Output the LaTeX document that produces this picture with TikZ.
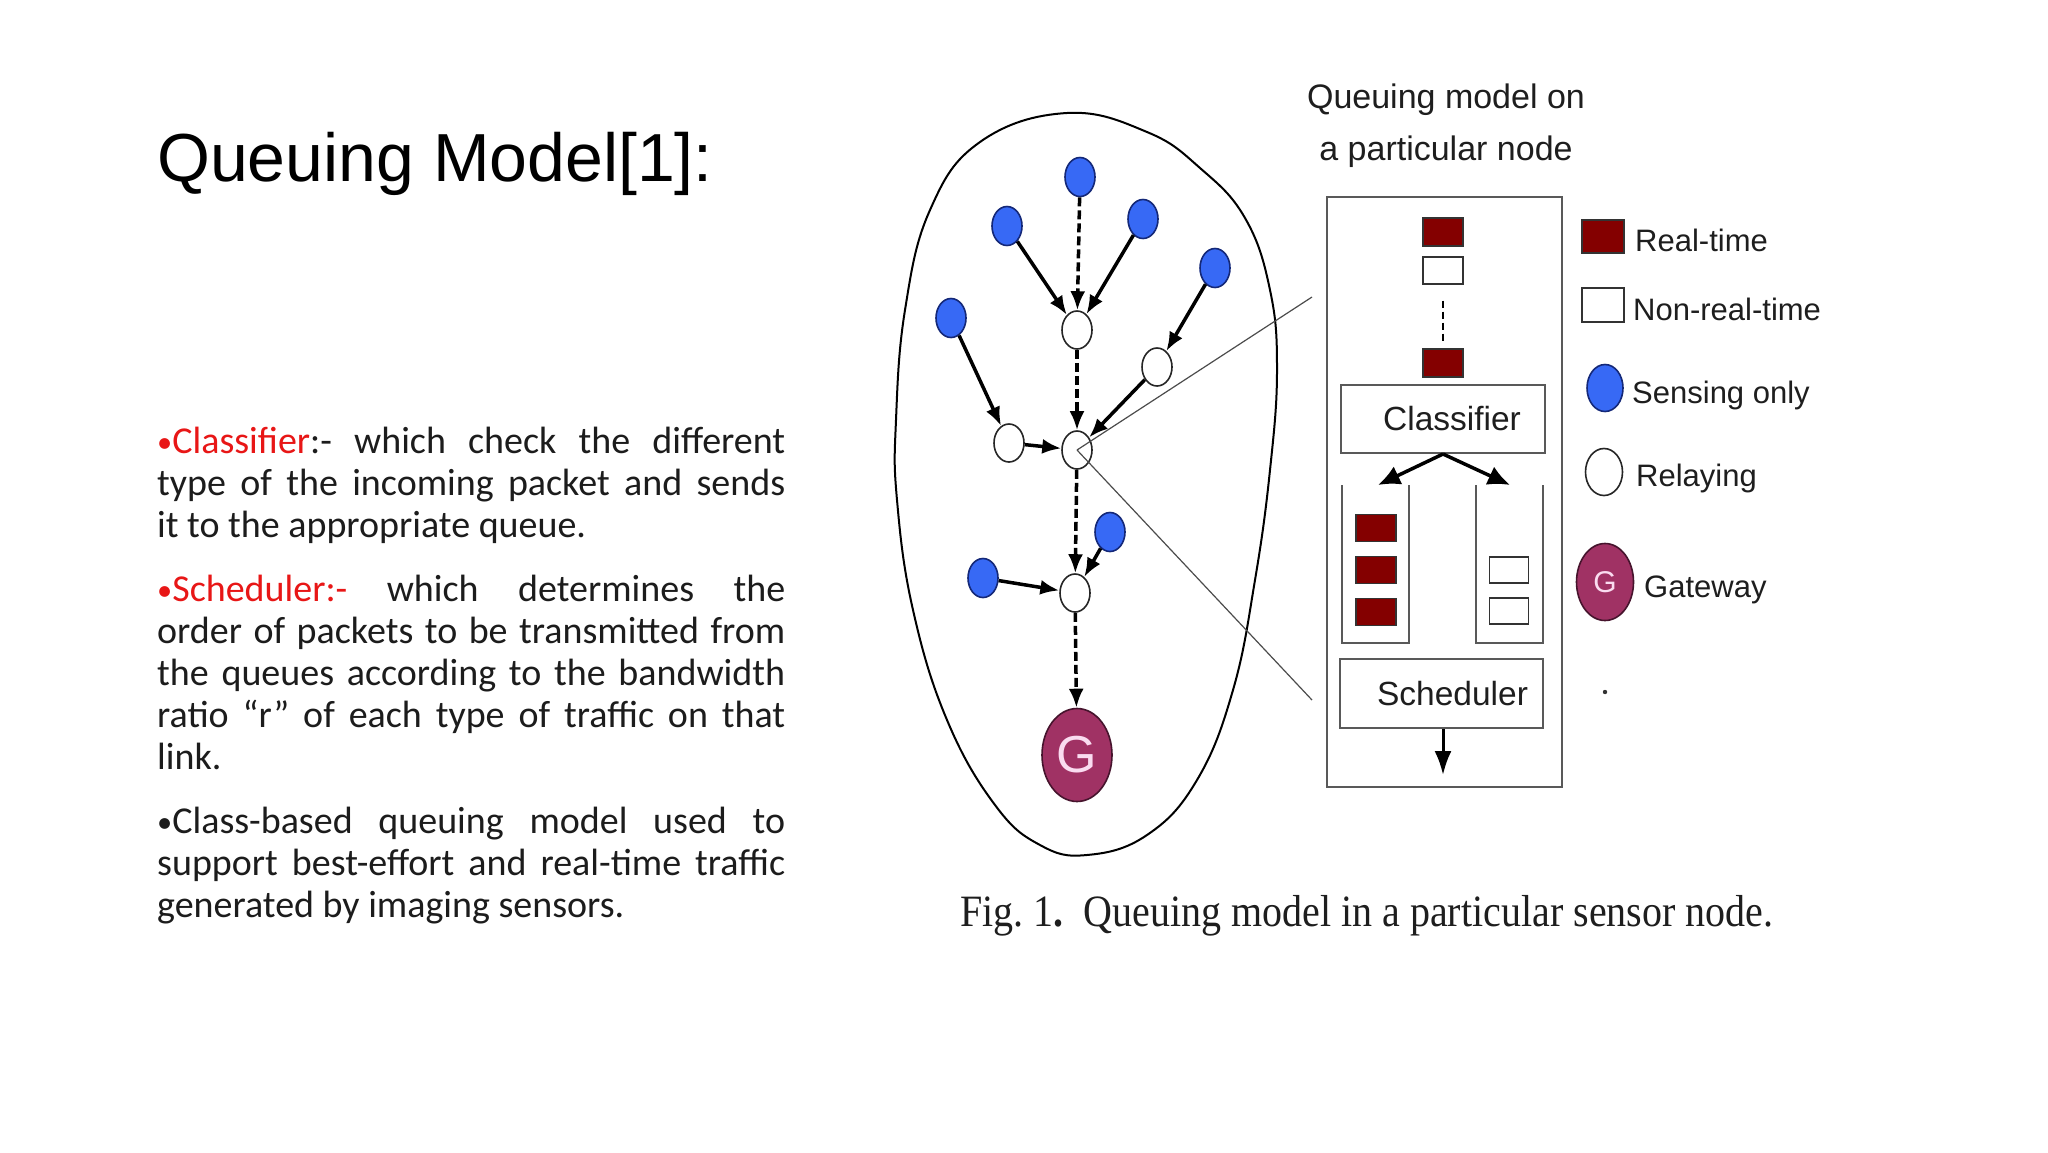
\documentclass[tikz,border=0pt]{standalone}
\usepackage{fontspec}
\setmainfont{Carlito}
\newfontfamily\arialf{Liberation Sans}
\newfontfamily\serf{Liberation Serif}
\usetikzlibrary{shapes.geometric,arrows.meta}
\definecolor{sensblue}{RGB}{55,105,245}
\definecolor{sensedge}{RGB}{20,40,120}
\definecolor{darkred}{RGB}{132,0,0}
\definecolor{gwfill}{RGB}{160,50,100}
\definecolor{gwedge}{RGB}{70,20,45}
\definecolor{gwtext}{RGB}{250,220,240}
\definecolor{redt}{RGB}{232,22,22}
\definecolor{bodytext}{RGB}{28,28,28}
\definecolor{figtext}{RGB}{30,30,30}
\newcommand\figfont{\arialf\fontsize{33.5}{40}\selectfont}
\newcommand\legfont{\arialf\fontsize{31}{37}\selectfont}
\newcommand\bodyfont{\fontsize{38}{42}\selectfont}
\newcommand\jl[1]{\makebox[628pt][s]{#1}}
\newcommand\bul{\raisebox{1pt}{\scalebox{0.8}{•}}}
\tikzset{
 sense/.style={ellipse, draw=sensedge, fill=sensblue, line width=1.6pt, minimum width=30pt, minimum height=39pt, inner sep=0pt},
 relay/.style={ellipse, draw=black!85, fill=white, line width=1.6pt, minimum width=30pt, minimum height=38pt, inner sep=0pt},
 gway/.style={ellipse, draw=gwedge, fill=gwfill, line width=1.6pt, inner sep=0pt, text=gwtext},
 arr/.style={line width=3.5pt, -{Latex[length=19pt,width=15pt]}},
 darr/.style={arr, dash pattern=on 9pt off 4pt},
 pkt/.style={rectangle, draw=black!80, line width=1.4pt, fill=white, minimum width=40pt, minimum height=27pt, inner sep=0pt},
 rtp/.style={pkt, fill=darkred},
 boxn/.style={rectangle, draw=black!65, line width=2pt, inner sep=0pt, font=\figfont, text=figtext},
 qline/.style={draw=black!65, line width=2pt},
 zline/.style={draw=black!70, line width=1.2pt},
 legt/.style={anchor=base west, inner sep=0pt, font=\legfont, text=figtext},
 body/.style={anchor=base west, inner sep=0pt, font=\bodyfont, text=bodytext},
}
\begin{document}
\begin{tikzpicture}[x=1pt,y=-1pt]
\useasboundingbox (0,0) rectangle (2048,1152);
\fill[white] (0,0) rectangle (2048,1152);

% title
\node[anchor=base west, inner sep=0pt, font=\arialf\fontsize{68}{78}\selectfont] (title) at (157,181) {Queuing Model[1]:};

% body text
\node[body] (t1) at (157,453) {\jl{\textcolor{redt}{\bul Classifier}:- which check the different}};
\node[body] (t2) at (157,495) {\jl{type of the incoming packet and sends}};
\node[body] (t3) at (157,537) {it to the appropriate queue.};
\node[body] (t4) at (157,601) {\jl{\textcolor{redt}{\bul Scheduler:-} which determines the}};
\node[body] (t5) at (157,643) {\jl{order of packets to be transmitted from}};
\node[body] (t6) at (157,685) {\jl{the queues according to the bandwidth}};
\node[body] (t7) at (157,727) {\jl{ratio “r” of each type of traffic on that}};
\node[body] (t8) at (157,769) {link.};
\node[body] (t9) at (157,833) {\jl{\bul Class-based queuing model used to}};
\node[body] (t10) at (157,875) {\jl{support best-effort and real-time traffic}};
\node[body] (t11) at (157,917) {generated by imaging sensors.};

% blob outline
\draw[line width=2pt] plot[smooth cycle, tension=0.7] coordinates {
 (1067,113) (1147,132) (1200,168) (1245,218) (1270,290) (1277,370) (1270,470)
 (1255,580) (1233,690) (1197,780) (1147,835) (1087,855) (1040,845) (995,805)
 (947,720) (913,610) (897,500) (896,420) (905,310) (930,210) (980,142)};

% network nodes
\node[sense] (b1) at (1080,177) {};
\node[sense] (b2) at (1007,226) {};
\node[sense] (b3) at (1143,219) {};
\node[sense] (b4) at (1215,268) {};
\node[sense] (b5) at (951,318) {};
\node[sense] (b6) at (1110,532) {};
\node[sense] (b7) at (983,578) {};
\node[relay] (r1) at (1077,330) {};
\node[relay] (r2) at (1157,367) {};
\node[relay] (r3) at (1009,443) {};
\node[relay] (r4) at (1077,450) {};
\node[relay] (r5) at (1075,593) {};
\node[gway, minimum width=70pt, minimum height=93pt, font=\arialf\fontsize{52}{60}\selectfont] (g) at (1077,755) {G};

% zoom lines
\coordinate (zt) at (1312,297);
\coordinate (zb) at (1312,700);
\draw[zline] (r4.center) -- (zt);
\draw[zline] (r4.center) -- (zb);

% edges
\draw[darr] (b1) -- (r1);
\draw[arr] (b2) -- (r1);
\draw[arr] (b3) -- (r1);
\draw[arr] (b4) -- (r2);
\draw[arr] (b5) -- (r3);
\draw[darr] (r1) -- (r4);
\draw[arr] (r2) -- (r4);
\draw[arr] (r3) -- (r4);
\draw[darr] (r4) -- (r5);
\draw[arr] (b6) -- (r5);
\draw[arr] (b7) -- (r5);
\draw[darr] (r5) -- (g);

% panel header
\node[anchor=base, inner sep=0pt, font=\arialf\fontsize{34}{40}\selectfont, text=figtext] (h1) at (1446,108) {Queuing model on};
\node[anchor=base, inner sep=0pt, font=\arialf\fontsize{34}{40}\selectfont, text=figtext] (h2) at (1446,160) {a particular node};

% panel
\node[rectangle, draw=black!65, line width=2pt, minimum width=235pt, minimum height=590pt, inner sep=0pt] (panel) at (1444.5,492) {};
\node[rtp, minimum height=28pt] (p1) at (1443,232) {};
\node[pkt] (p2) at (1443,270.5) {};
\node[rtp, minimum height=28pt] (p3) at (1443,363) {};
\draw[line width=2.5pt, dash pattern=on 7pt off 4pt] ([yshift=-16pt]p2.south) -- ([yshift=6pt]p3.north);
\node[boxn, minimum width=204pt, minimum height=68pt] (cls) at (1443,419) {\hspace*{18pt}Classifier};
\coordinate (qL) at (1378,485);
\coordinate (qR) at (1510,485);
\draw[line width=3.5pt, -{Latex[length=22pt,width=20pt]}] (cls.south) -- (qL);
\draw[line width=3.5pt, -{Latex[length=22pt,width=20pt]}] (cls.south) -- (qR);
\draw[qline] (1342,485) -- (1342,643) -- (1409,643) -- (1409,485);
\draw[qline] (1476,485) -- (1476,643) -- (1543,643) -- (1543,485);
\node[rtp] (q1) at (1376,528) {};
\node[rtp] (q2) at (1376,570) {};
\node[rtp] (q3) at (1376,612) {};
\node[pkt, minimum width=39pt, minimum height=26pt] (w1) at (1509,570) {};
\node[pkt, minimum width=39pt, minimum height=26pt] (w2) at (1509,611) {};
\node[boxn, minimum width=203pt, minimum height=69pt] (sch) at (1441.5,693.5) {\hspace*{22pt}Scheduler};
\coordinate (out) at (1443,775);
\draw[line width=3pt, -{Latex[length=24pt,width=17pt]}] (sch.south -| out) -- (out);

% legend
\node[rtp, minimum width=42pt, minimum height=33pt] (lrt) at (1603,236.5) {};
\node[legt] (lrtt) at (1635,251) {Real-time};
\node[pkt, minimum width=42pt, minimum height=34pt] (lnrt) at (1603,305) {};
\node[legt] (lnrtt) at (1633,320) {Non-real-time};
\node[sense, minimum width=36pt, minimum height=47pt] (ls) at (1605,388) {};
\node[legt] (lst) at (1632,403) {Sensing only};
\node[relay, minimum width=37pt, minimum height=47pt] (lr) at (1604,472) {};
\node[legt] (lrlt) at (1636,486) {Relaying};
\node[gway, minimum width=57pt, minimum height=77pt, font=\arialf\fontsize{30}{34}\selectfont] (lg) at (1605,582) {G};
\node[legt] (lgt) at (1644,597) {Gateway};
\fill[black!80] (1605,692) circle (2.2);

% caption
\node[anchor=base west, inner sep=0pt, font=\serf\fontsize{40}{46}\selectfont, text=figtext] (cap) at (960,926) {\scalebox{1}[1.12]{Fig.\ 1\textbf{.}\ \ Queuing model in a particular sensor node.}};
\end{tikzpicture}
\end{document}
